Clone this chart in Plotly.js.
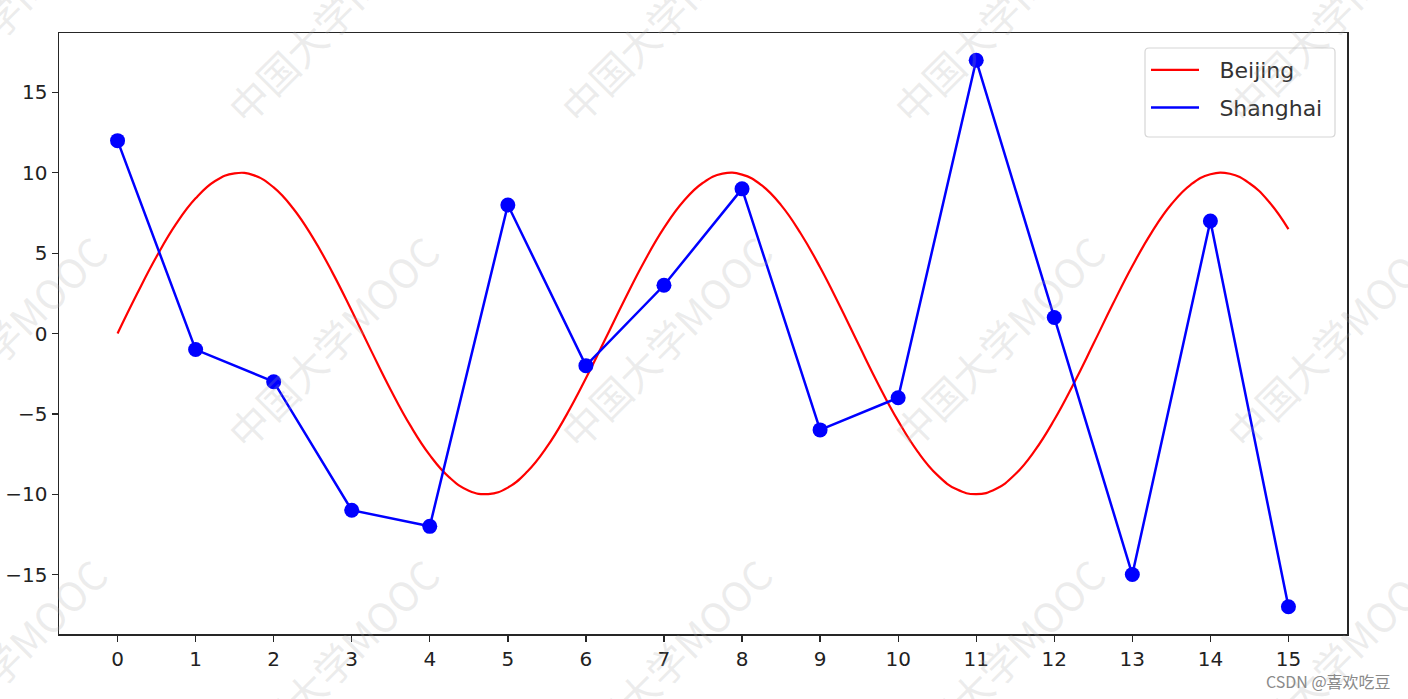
<!DOCTYPE html>
<html>
<head>
<meta charset="utf-8">
<script src="https://cdn.plot.ly/plotly-3.0.1.min.js"></script>
<style>
html,body{margin:0;padding:0;background:#fff;}
#chart{width:1408px;height:699px;}
</style>
</head>
<body>
<div id="chart"></div>
<script>
// Beijing: smooth curve (x step 0.25)
const beijingX = [0,0.25,0.5,0.75,1,1.25,1.5,1.75,2,2.25,2.5,2.75,3,3.25,3.5,3.75,4,4.25,4.5,4.75,5,5.25,5.5,5.75,6,6.25,6.5,6.75,7,7.25,7.5,7.75,8,8.25,8.5,8.75,9,9.25,9.5,9.75,10,10.25,10.5,10.75,11,11.25,11.5,11.75,12,12.25,12.5,12.75,13,13.25,13.5,13.75,14,14.25,14.5,14.75,15];
const beijingY = [0,2.47,4.79,6.82,8.41,9.49,9.97,9.84,9.09,7.78,5.98,3.82,1.41,-1.08,-3.51,-5.72,-7.57,-8.95,-9.78,-9.99,-9.59,-8.59,-7.06,-5.08,-2.79,-0.33,2.15,4.50,6.57,8.23,9.38,9.95,9.89,9.23,7.99,6.24,4.12,1.74,-0.75,-3.20,-5.44,-7.35,-8.80,-9.70,-10.00,-9.68,-8.76,-7.29,-5.37,-3.11,-0.66,1.83,4.20,6.31,8.04,9.27,9.91,9.94,9.35,8.20,6.50];
// Shanghai
const shanghaiX = [0,1,2,3,4,5,6,7,8,9,10,11,12,13,14,15];
const shanghaiY = [12,-1,-3,-11,-12,8,-2,3,9,-6,-4,17,1,-15,7,-17];
const xTicks = [0,1,2,3,4,5,6,7,8,9,10,11,12,13,14,15];
const yTicks = [-15,-10,-5,0,5,10,15];
const seriesNames = ['Beijing','Shanghai'];
const watermarkText = '中国大学MOOC';
const creditText = 'CSDN @喜欢吃豆';

const W = 1408, H = 699, L = 59, R = 61, T = 33, B = 65;
const pw = W - L - R, ph = H - T - B;
function px(x){ return (x - L) / pw; }
function py(y){ return (H - B - y) / ph; }
const legendPad = '\u2002\u2009';

const annotations = [];
const wmCols = [0, 332, 665, 998, 1331];
const wmRows = [17, 342, 665];
wmRows.forEach(r => wmCols.forEach(c => {
  annotations.push({
    text: watermarkText, xref: 'paper', yref: 'paper',
    x: px(c), y: py(r), xanchor: 'center', yanchor: 'middle',
    showarrow: false, textangle: -45,
    font: {family: 'Noto Sans CJK SC, sans-serif', size: 40, color: 'rgba(170,170,170,0.22)'}
  });
}));
annotations.push({
  text: creditText, xref: 'paper', yref: 'paper',
  x: px(1393), y: py(681), xanchor: 'right', yanchor: 'middle',
  showarrow: false,
  font: {family: 'Noto Sans CJK SC, sans-serif', size: 16, color: '#8a8a8a'}
});

// legend frame (rounded box)
const bx0 = 1145, bx1 = 1335, by0 = 48, by1 = 137, rr = 4;
const rx = rr / pw, ry = rr / ph;
const X0 = px(bx0), X1 = px(bx1), Y0 = py(by1), Y1 = py(by0);
const framePath = `M${X0+rx},${Y0} L${X1-rx},${Y0} Q${X1},${Y0} ${X1},${Y0+ry} L${X1},${Y1-ry} Q${X1},${Y1} ${X1-rx},${Y1} L${X0+rx},${Y1} Q${X0},${Y1} ${X0},${Y1-ry} L${X0},${Y0+ry} Q${X0},${Y0} ${X0+rx},${Y0} Z`;

const traces = [
  {x: beijingX, y: beijingY, name: legendPad + seriesNames[0], type: 'scatter', mode: 'lines',
   legendgroup: 'a',
   line: {color: '#ff0000', width: 2.2, shape: 'spline', smoothing: 1.3}},
  {x: shanghaiX, y: shanghaiY, name: legendPad + seriesNames[1], type: 'scatter', mode: 'lines',
   legendgroup: 'b',
   line: {color: '#0000ff', width: 2.5}},
  {x: shanghaiX, y: shanghaiY, name: seriesNames[1], type: 'scatter', mode: 'markers',
   legendgroup: 'b', showlegend: false,
   marker: {color: '#0000ff', size: 15}}
];

const axisCommon = {
  showgrid: false, zeroline: false, showline: true, mirror: true,
  linecolor: '#262626', linewidth: 1.5,
  ticks: 'outside', ticklen: 6, tickwidth: 1.3, tickcolor: '#262626',
  tickfont: {family: 'DejaVu Sans, sans-serif', size: 20, color: '#222'}
};

const layout = {
  width: W, height: H,
  margin: {l: L, r: R, t: T, b: B, pad: 0},
  paper_bgcolor: '#fff', plot_bgcolor: '#fff',
  showlegend: true,
  legend: {
    x: px(1146), y: py(49), xanchor: 'left', yanchor: 'top',
    bgcolor: 'rgba(0,0,0,0)', borderwidth: 0,
    font: {family: 'DejaVu Sans, sans-serif', size: 22, color: '#333'},
    tracegroupgap: 6, itemwidth: 48
  },
  shapes: [{type: 'path', xref: 'paper', yref: 'paper', path: framePath,
    fillcolor: 'rgba(255,255,255,0.85)', line: {color: '#d6d6d6', width: 1.2}, layer: 'above'}],
  xaxis: Object.assign({}, axisCommon, {
    range: [-0.75, 15.75], tickmode: 'array', tickvals: xTicks,
    ticktext: xTicks.map(String)
  }),
  yaxis: Object.assign({}, axisCommon, {
    range: [-18.7, 18.7], tickmode: 'array', tickvals: yTicks,
    ticktext: yTicks.map(v => v < 0 ? '\u2212' + Math.abs(v) : String(v))
  }),
  annotations: annotations
};

Plotly.newPlot('chart', traces, layout, {displayModeBar: false, staticPlot: true});
</script>
</body>
</html>
